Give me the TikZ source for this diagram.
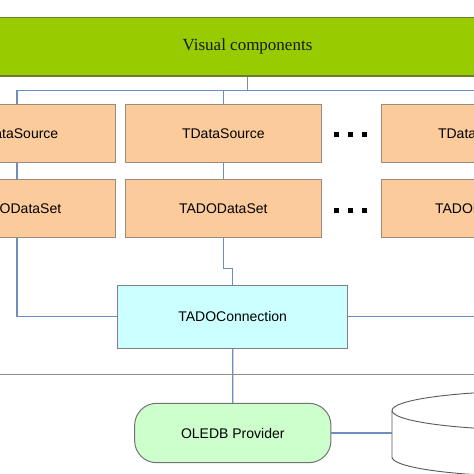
\documentclass[tikz,border=0pt]{standalone}
\usepackage{fontspec}
\setmainfont{Liberation Serif}
\newfontfamily\arialfont{Liberation Sans}
\usetikzlibrary{positioning}
\definecolor{barGreen}{HTML}{99CC00}
\definecolor{barEdge}{HTML}{6E7D2E}
\definecolor{boxFill}{HTML}{FBCB9B}
\definecolor{boxEdge}{HTML}{9C8B7A}
\definecolor{connFill}{HTML}{CCFFFF}
\definecolor{provFill}{HTML}{CCFFCC}
\definecolor{linkBlue}{HTML}{6C8EBF}
\tikzset{dbar/.style={draw=barEdge, line width=1.5pt, fill=barGreen, text=black!90, font=\fontsize{17}{19}\selectfont}}
\tikzset{dcomp/.style={draw=boxEdge, line width=1pt, fill=boxFill, minimum width=196pt, minimum height=58pt, font=\arialfont\fontsize{14}{16}\selectfont}}
\tikzset{dconn/.style={draw=black!50, line width=1pt, fill=connFill, minimum width=230pt, minimum height=63.3pt, font=\arialfont\fontsize{14}{16}\selectfont}}
\tikzset{dprov/.style={draw=black!55, line width=1pt, fill=provFill, rounded corners=22pt, minimum width=196.3pt, minimum height=59.4pt, font=\arialfont\fontsize{14}{16}\selectfont}}
\tikzset{link/.style={draw=linkBlue, line width=1.3pt}}
\tikzset{sepline/.style={draw=black!45, line width=1pt}}

\begin{document}
\begin{tikzpicture}[x=1pt, y=-1pt]
	\useasboundingbox (0,0) rectangle (474,474);
	\clip (0,0) rectangle (474,474);
	%
	\node[dbar, minimum width=520pt, minimum height=58.7pt] (vis) at (247.5,46.7) {Visual components};
	\coordinate (bus) at (247.5,90.3);
	%
	\node[dcomp] (src2) at (223.3,133.3) {TDataSource};
	\node[dcomp, left=9.3pt of src2] (src1) {TDataSource};
	\node[dcomp, right=59pt of src2] (src3) {TDataSource};
	\node[dcomp, below=16.6pt of src1] (set1) {TADODataSet};
	\node[dcomp, below=16.6pt of src2] (set2) {TADODataSet};
	\node[dcomp, below=16.6pt of src3] (set3) {TADODataSet};
	\node[inner sep=0pt] (dots1) at (350.5,134.7) {\rule{5pt}{5pt}\hspace{9.3pt}\rule{5pt}{5pt}\hspace{9.3pt}\rule{5pt}{5pt}};
	\node[inner sep=0pt] (dots2) at (350.5,210.3) {\rule{5pt}{5pt}\hspace{9.3pt}\rule{5pt}{5pt}\hspace{9.3pt}\rule{5pt}{5pt}};
	%
	\node[dconn] (con) at (232.7,316.7) {TADOConnection};
	\node[dprov] (ole) at (232.8,433) {OLEDB Provider};
	%
	\draw[link] (vis.south) -- (vis.south |- bus);
	\draw[link] (src1.north) -- (src1.north |- bus) -| (src3.north);
	\draw[link] (src2.north) -- (src2.north |- bus);
	\draw[link] (src1.south) -- (set1.north);
	\draw[link] (src2.south) -- (set2.north);
	\draw[link] (src3.south) -- (set3.north);
	\draw[link] (set1.south) |- (con.west);
	\draw[link] (set2.south) -- ++(0,30) -| (con.north);
	\draw[link] (set3.south) |- (con.east);
	\draw[link] (con.south) -- (ole.north);
	%
	\draw[sepline] (0,374) -- (474,374);
	% database drum, cut by the border
	\coordinate (db) at (392,433);
	\draw[draw=black!65, line width=0.9pt, fill=white] (392,410.5) -- (392,457)
		plot[domain=180:300, samples=40] ({537+145*cos(\x)},{457-19.5*sin(\x)});
	\draw[draw=black!65, line width=0.9pt] (537,410.5) ellipse [x radius=145pt, y radius=19.5pt];
	\draw[link] (ole.east) -- (db);
\end{tikzpicture}
\end{document}
